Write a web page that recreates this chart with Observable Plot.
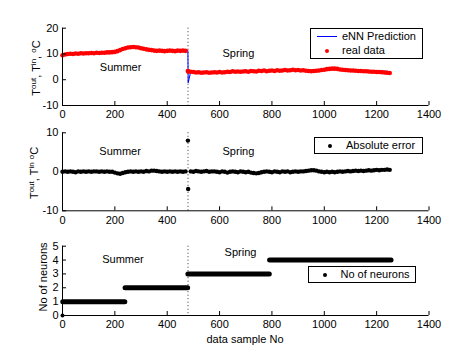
<!DOCTYPE html>
<html><head><meta charset="utf-8">
<script src="https://cdn.jsdelivr.net/npm/d3@7"></script>
<script src="https://cdn.jsdelivr.net/npm/@observablehq/plot@0.6"></script>
<style>
body{margin:0;background:#fff;font-family:"Liberation Sans",Arial,sans-serif;}
#chart{position:relative;width:474px;height:355px;overflow:hidden;background:#fff;}
#chart svg{position:absolute;left:0;overflow:visible;}
.legend{position:absolute;border:1px solid #000;background:#fff;font-size:11px;color:#000;}
.legend span{position:absolute;white-space:nowrap;line-height:13px;}
.legend .dot{position:absolute;width:4px;height:4px;border-radius:50%;}
.legend .ln{position:absolute;height:0;border-top:1px solid #0000ff;}
</style></head><body><div id="chart"></div>
<script>
// ---------- data ----------
const xTicks = [0, 200, 400, 600, 800, 1000, 1200, 1400];
const tempTicks = [-10, 0, 10, 20];
const errTicks = [-10, 0, 10];
const neuronTicks = [0, 1, 2, 3, 4, 5];
const seasons = ["Summer", "Spring"];
const seasonBoundary = 479.5;

// real temperature, every 10th sample (summer: 0..470, spring: 480..1250)
const realSummer = [
  9.5, 9.8, 10.0, 10.1, 10.0, 10.2, 10.1, 10.3, 10.2, 10.3,
  10.3, 10.4, 10.3, 10.5, 10.4, 10.5, 10.5, 10.6, 10.6, 10.7,
  10.8, 11.1, 11.5, 11.9, 12.2, 12.5, 12.6, 12.7, 12.6, 12.5,
  12.2, 12.0, 11.8, 11.6, 11.5, 11.3, 11.2, 11.3, 11.2, 11.1,
  11.2, 11.3, 11.2, 11.1, 11.3, 11.2, 11.3, 11.2
];
const realSpring = [
  3.2, 3.1, 3.0, 2.8, 2.9, 2.7, 2.8, 2.9, 2.7, 2.8,
  2.9, 2.8, 3.0, 2.8, 2.9, 3.1, 3.0, 3.3, 3.1, 3.2,
  3.1, 3.2, 3.3, 3.1, 3.4, 3.3, 3.2, 3.5, 3.4, 3.6,
  3.3, 3.5, 3.6, 3.4, 3.7, 3.5, 3.6, 3.8, 3.6, 3.7,
  3.9, 3.7, 3.8, 3.6, 3.7, 3.5, 3.4, 3.3, 3.4, 3.5,
  3.6, 3.8, 3.9, 4.1, 4.2, 4.3, 4.3, 4.2, 4.0, 3.9,
  3.8, 3.7, 3.6, 3.6, 3.5, 3.4, 3.4, 3.3, 3.3, 3.2,
  3.1, 3.1, 3.0, 3.0, 2.9, 2.8, 2.7, 2.6
];
// prediction error (prediction - real), same samples
const errSummer = [
  0.0, 0.1, 0.0, 0.1, 0.0, -0.1, 0.1, 0.0, 0.1, 0.0,
  0.1, 0.0, 0.1, 0.1, 0.0, 0.1, 0.0, 0.1, 0.0, 0.0,
  -0.2, -0.4, -0.5, -0.3, -0.1, 0.0, 0.1, 0.0, 0.1, 0.0,
  0.1, 0.0, 0.2, 0.1, 0.3, 0.3, 0.2, 0.1, 0.0, 0.1,
  0.0, 0.1, 0.0, 0.1, 0.0, 0.1, 0.0, 0.1
];
const errSpring = [
  -4.4, 0.1, 0.0, 0.2, 0.1, 0.0, 0.1, 0.2, 0.0, 0.1,
  0.1, 0.0, -0.1, 0.1, 0.0, -0.2, 0.0, 0.1, 0.0, -0.1,
  0.1, 0.0, -0.1, 0.0, -0.2, -0.3, -0.4, -0.3, -0.1, 0.0,
  0.1, 0.0, -0.1, 0.1, 0.0, -0.1, 0.1, 0.0, 0.1, -0.1,
  0.0, 0.1, 0.0, 0.1, 0.1, 0.2, 0.3, 0.4, 0.4, 0.3,
  0.1, 0.0, -0.1, 0.0, -0.1, 0.0, -0.1, 0.0, 0.1, 0.0,
  0.1, 0.2, 0.1, 0.2, 0.3, 0.2, 0.3, 0.2, 0.3, 0.4,
  0.3, 0.4, 0.5, 0.4, 0.5, 0.5, 0.6, 0.5
];
// the season change sample
const transitionSample = 479;
const transitionReal = 3.4;
const transitionErr = 8.0;

// number of neurons: segments
const neuronStart = [0, 1, 239, 479, 791];
const neuronEnd   = [0, 238, 478, 790, 1255];
const neuronCount = [0, 1, 2, 3, 4];

// ---------- tables ----------
const rows = [];
realSummer.forEach((v, i) => rows.push({sample: i * 10, real: v, err: errSummer[i]}));
rows.push({sample: transitionSample, real: transitionReal, err: transitionErr});
realSpring.forEach((v, i) => rows.push({sample: 480 + i * 10, real: v, err: errSpring[i]}));
rows.forEach(r => r.pred = r.real + r.err);

const segs = neuronCount.map((n, i) => ({x1: neuronStart[i], x2: neuronEnd[i], n}));

// ---------- drawing ----------
const chart = document.getElementById("chart");
const xDomain = [0, 1400];
const fontFamily = '"Liberation Sans", Arial, sans-serif';

function panel({top, height, marginTop, marginBottom, yDomain, yTicks, marks}) {
  const svg = Plot.plot({
    width: 474, height, marginTop, marginBottom, marginLeft: 62, marginRight: 45.5,
    x: {domain: xDomain},
    y: {domain: yDomain},
    style: {fontFamily, fontSize: "11px", color: "#000", background: "transparent", overflow: "visible"},
    marks: [
      ...marks,
      Plot.ruleX([xDomain[0]], {stroke: "#000"}),
      Plot.ruleY([yDomain[0]], {stroke: "#000"}),
      Plot.axisX({ticks: xTicks, tickSize: -4, tickPadding: 9, label: null, tickFormat: d => String(d)}),
      Plot.axisY({ticks: yTicks, tickSize: -4, tickPadding: 8, label: null, tickFormat: d => String(d)})
    ]
  });
  svg.style.top = top + "px";
  chart.append(svg);
  return svg;
}

function yLabel(svg, parts, x, y) {
  const t = d3.select(svg).append("text")
    .attr("transform", `translate(${x},${y}) rotate(-90)`)
    .attr("text-anchor", "middle").attr("font-size", 11).attr("fill", "#000")
    .attr("font-family", fontFamily);
  let up = false;
  parts.forEach(([s, sup]) => {
    const ts = t.append("tspan").text(s);
    if (sup && !up) { ts.attr("dy", -4); up = true; }
    else if (!sup && up) { ts.attr("dy", 4); up = false; }
    if (sup) ts.attr("font-size", 8);
  });
}

const dotted = {stroke: "#333", strokeDasharray: "1,2.5", strokeWidth: 1};

const p1 = panel({
  top: 0, height: 120, marginTop: 27.7, marginBottom: 15,
  yDomain: [-10, 20], yTicks: tempTicks,
  marks: [
    Plot.ruleX([seasonBoundary], dotted),
    Plot.line(rows, {x: "sample", y: "pred", stroke: "#0000ff", strokeWidth: 1}),
    Plot.dot(rows, {x: "sample", y: "real", r: 2.3, fill: "#ff0000", stroke: "none"}),
    Plot.text(seasons, {x: [222, 672], y: [4.9, 10.2], text: d => d, fontSize: 11, fill: "#000"})
  ]
});
yLabel(p1, [["T"], ["out", 1], [", T"], ["in", 1], [", "], ["o", 1], ["C"]], 40, 68);

const p2 = panel({
  top: 120, height: 110, marginTop: 12.3, marginBottom: 19.7,
  yDomain: [-10, 10], yTicks: errTicks,
  marks: [
    Plot.ruleX([seasonBoundary], dotted),
    Plot.dot(rows, {x: "sample", y: "err", r: 2.2, fill: "#000", stroke: "none"}),
    Plot.text(seasons, {x: [220, 672], y: [5.1, 5.2], text: d => d, fontSize: 11, fill: "#000"})
  ]
});
yLabel(p2, [["T"], ["out", 1], [", T"], ["in", 1], [" "], ["o", 1], ["C"]], 38, 53);

const p3 = panel({
  top: 230, height: 125, marginTop: 15.7, marginBottom: 40,
  yDomain: [0, 5], yTicks: neuronTicks,
  marks: [
    Plot.ruleX([seasonBoundary], dotted),
    Plot.link(segs.filter(s => s.x2 > s.x1), {x1: "x1", x2: "x2", y1: "n", y2: "n", stroke: "#000", strokeWidth: 5, strokeLinecap: "round"}),
    Plot.dot(segs.filter(s => s.x2 === s.x1), {x: "x1", y: "n", r: 2, fill: "#000", stroke: "none"}),
    Plot.text(seasons, {x: [231, 680], y: [4.06, 4.55], text: d => d, fontSize: 11, fill: "#000"})
  ]
});
yLabel(p3, [["No of neurons"]], 46.5, 47);
d3.select(p3).append("text").attr("x", 245).attr("y", 113).attr("text-anchor", "middle")
  .attr("font-size", 11).attr("font-family", fontFamily).attr("fill", "#000").text("data sample No");

// ---------- legends ----------
function legend(box, items) {
  const d = document.createElement("div");
  d.className = "legend";
  Object.assign(d.style, {left: box[0] + "px", top: box[1] + "px", width: box[2] + "px", height: box[3] + "px"});
  items.forEach(it => {
    if (it.line) {
      const l = document.createElement("div"); l.className = "ln";
      Object.assign(l.style, {left: it.sx + "px", top: it.sy + "px", width: "20px"});
      d.append(l);
    } else {
      const m = document.createElement("div"); m.className = "dot";
      Object.assign(m.style, {left: it.sx + "px", top: it.sy + "px", background: it.color});
      d.append(m);
    }
    const s = document.createElement("span");
    s.textContent = it.label;
    Object.assign(s.style, {left: it.tx + "px", top: it.ty + "px"});
    d.append(s);
  });
  chart.append(d);
}
legend([310, 28, 111, 29], [
  {line: true, sx: 6, sy: 7, label: "eNN Prediction", tx: 31, ty: 1},
  {color: "#ff0000", sx: 14, sy: 20, label: "real data", tx: 31, ty: 14.6}
]);
legend([314, 137, 107, 15], [
  {color: "#000", sx: 13, sy: 5.5, label: "Absolute error", tx: 31, ty: 1.2}
]);
legend([308, 266, 106, 15], [
  {color: "#000", sx: 14, sy: 5.5, label: "No of neurons", tx: 31.5, ty: 1.2}
]);
</script></body></html>
